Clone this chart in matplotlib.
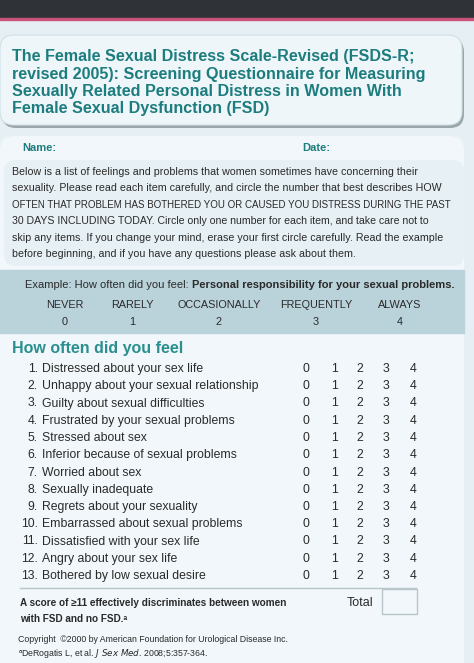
import matplotlib
matplotlib.use("Agg")
import matplotlib.pyplot as plt
from matplotlib.patches import FancyBboxPatch, Rectangle

title_lines = ["The Female Sexual Distress Scale-Revised (FSDS-R;",
               "revised 2005): Screening Questionnaire for Measuring",
               "Sexually Related Personal Distress in Women With",
               "Female Sexual Dysfunction (FSD)"]
intro_lines = ["Below is a list of feelings and problems that women sometimes have concerning their",
               "sexuality. Please read each item carefully, and circle the number that best describes HOW",
               "OFTEN THAT PROBLEM HAS BOTHERED YOU OR CAUSED YOU DISTRESS DURING THE PAST",
               "30 DAYS INCLUDING TODAY. Circle only one number for each item, and take care not to",
               "skip any items. If you change your mind, erase your first circle carefully. Read the example",
               "before beginning, and if you have any questions please ask about them."]
scale_labels = ["NEVER", "RARELY", "OCCASIONALLY", "FREQUENTLY", "ALWAYS"]
scale_values = [0, 1, 2, 3, 4]
items = ["Distressed about your sex life", "Unhappy about your sexual relationship",
         "Guilty about sexual difficulties", "Frustrated by your sexual problems",
         "Stressed about sex", "Inferior because of sexual problems", "Worried about sex",
         "Sexually inadequate", "Regrets about your sexuality",
         "Embarrassed about sexual problems", "Dissatisfied with your sex life",
         "Angry about your sex life", "Bothered by low sexual desire"]

TEAL = "#1d7c7e"
DARK = "#2a2a2a"
NARROW = ["Liberation Sans", "DejaVu Sans"]
SANS = ["Liberation Sans", "DejaVu Sans"]

fig = plt.figure(figsize=(4.74, 6.63), dpi=100)
ax = fig.add_axes([0, 0, 1, 1])
ax.set_xlim(0, 474); ax.set_ylim(663, 0); ax.axis("off")
fig.patch.set_facecolor("#e6eff3")

ax.add_patch(Rectangle((0, 0), 474, 18, color="#2f3337", zorder=1))
ax.add_patch(Rectangle((0, 18), 474, 2, color="#c9527a", zorder=1))

ax.add_patch(FancyBboxPatch((2, 38), 462, 90, boxstyle="round,pad=0,rounding_size=14",
                            fc="#9aa6ab", ec="none", zorder=1))
ax.add_patch(FancyBboxPatch((0, 35), 462, 90, boxstyle="round,pad=0,rounding_size=14",
                            fc="#eef6f9", ec="#cfe0e6", lw=0.8, zorder=2))
for i, t in enumerate(title_lines):
    ax.text(12, 57 + i * 17.3, t, color=TEAL, fontsize=11.6, fontweight="bold",
            family=SANS, va="center", zorder=3)

ax.add_patch(FancyBboxPatch((0, 136), 464, 540, boxstyle="round,pad=0,rounding_size=14",
                            fc="#f1f7fa", ec="none", zorder=1))
ax.text(22, 148, "Name:", color=TEAL, fontsize=8, fontweight="bold", family=NARROW, va="center", zorder=3)
ax.text(302, 148, "Date:", color=TEAL, fontsize=8, fontweight="bold", family=NARROW, va="center", zorder=3)
ax.add_patch(FancyBboxPatch((4, 160), 460, 106, boxstyle="round,pad=0,rounding_size=12",
                            fc="#e7f0f4", ec="none", zorder=2))
intro_right = [428, 447, 452, 431, 450, 360]
fig.canvas.draw()
r = fig.canvas.get_renderer()
for i, t in enumerate(intro_lines):
    tx = ax.text(12, 172 + i * 16.4, t, color=DARK, fontsize=7.7, family=NARROW, va="center", zorder=3)
    w = tx.get_window_extent(renderer=r).width
    target = intro_right[i] - 12
    if w > target:
        tx.set_fontsize(7.7 * target / w)

ax.add_patch(Rectangle((0, 270), 464, 63, color="#bad3da", zorder=2))
t1 = ax.text(25, 285, "Example: How often did you feel: ", color=DARK, fontsize=8.0,
             family=NARROW, va="center", zorder=3)
x_end = t1.get_window_extent(renderer=r).x1
ax.text(x_end, 663 - 285, "Personal responsibility for your sexual problems.", color=DARK,
        fontsize=8.0, fontweight="bold", family=NARROW, va="center", zorder=3,
        transform=None)
scale_x = [65, 132, 219, 316, 400]
for x, lab, v in zip(scale_x, scale_labels, scale_values):
    ax.text(x, 305, lab, color=DARK, fontsize=7.8, family=NARROW, ha="center", va="center", zorder=3)
    ax.text(x, 322, str(v), color=DARK, fontsize=7.8, family=NARROW, ha="center", va="center", zorder=3)

ax.text(12, 348, "How often did you feel", color="#2a8f8e", fontsize=11.5, fontweight="bold",
        family=SANS, va="center", zorder=3)
col_x = [306, 335, 360, 386, 413]
for i, it in enumerate(items):
    y = 369 + i * 17.25
    ax.text(38, y, f"{i + 1}.", color=DARK, fontsize=8.8, family=NARROW, ha="right", va="center", zorder=3)
    ax.text(42, y, it, color=DARK, fontsize=8.8, family=NARROW, va="center", zorder=3)
    for x, v in zip(col_x, scale_values):
        ax.text(x, y, str(v), color=DARK, fontsize=8.8, family=NARROW, ha="center", va="center", zorder=3)

ax.plot([20, 416], [588, 588], color="#b8c6cc", lw=1, zorder=3)
ax.text(20, 603, "A score of \u226511 effectively discriminates between women", color=DARK,
        fontsize=7.2, fontweight="bold", family=NARROW, va="center", zorder=3)
ax.text(20, 619, "with FSD and no FSD.\u1d43", color=DARK, fontsize=7.2, fontweight="bold",
        family=NARROW, va="center", zorder=3)
ax.text(360, 603, "Total", color=DARK, fontsize=9, family=NARROW, ha="center", va="center", zorder=3)
ax.add_patch(Rectangle((382, 589), 35, 25, fc="none", ec="#b8c6cc", lw=1, zorder=3))
ax.text(18, 640, "Copyright  \u00a92000 by American Foundation for Urological Disease Inc.",
        color=DARK, fontsize=6.3, family=NARROW, va="center", zorder=3)
ax.text(18, 654, "\u1d43DeRogatis L, et al. $\\it{J\\ Sex\\ Med}$. 2008;5:357-364.",
        color=DARK, fontsize=6.3, family=NARROW, va="center", zorder=3)

fig.savefig("out.png", dpi=100, facecolor=fig.get_facecolor())
